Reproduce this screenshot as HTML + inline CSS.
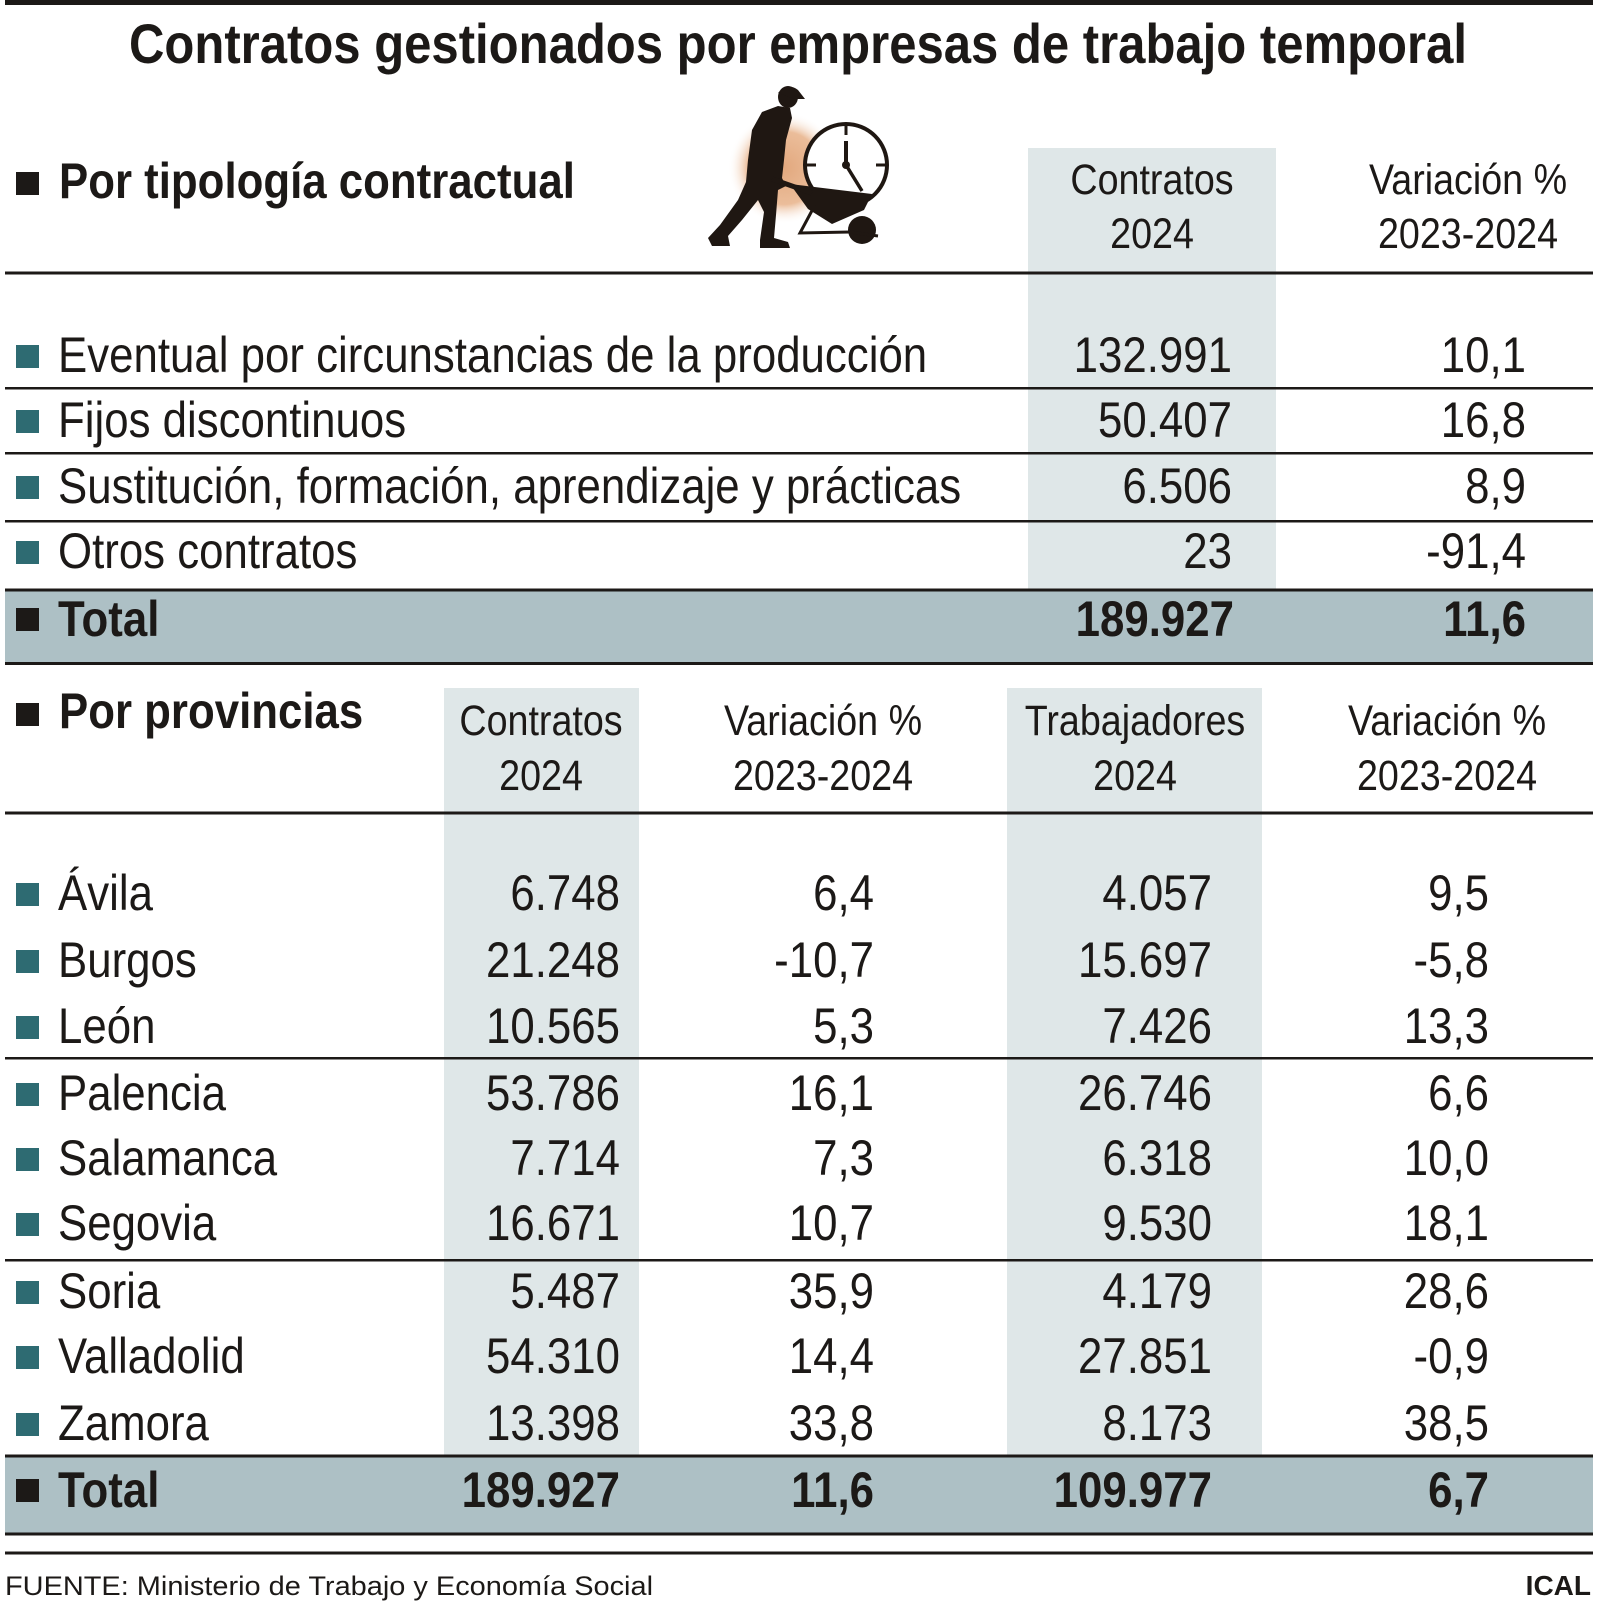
<!DOCTYPE html>
<html>
<head>
<meta charset="utf-8">
<style>
  html,body{margin:0;padding:0;background:#fff;}
  svg{display:block;}
  text{font-family:"Liberation Sans",Arial,sans-serif;fill:#1c1917;}
  .t{font-size:56px;font-weight:bold;}
  .h{font-size:50px;font-weight:bold;}
  .c{font-size:43px;}
  .r{font-size:50px;}
  .b{font-size:50px;font-weight:bold;}
</style>
</head>
<body>
<svg width="1600" height="1612" viewBox="0 0 1600 1612" xmlns="http://www.w3.org/2000/svg">
  <defs>
    <radialGradient id="glow" cx="50%" cy="50%" r="50%">
      <stop offset="0%" stop-color="#e2a87e"/>
      <stop offset="65%" stop-color="#ebbd9a"/>
      <stop offset="100%" stop-color="#ffffff" stop-opacity="0"/>
    </radialGradient>
  </defs>
  <rect x="0" y="0" width="1600" height="1612" fill="#fff"/>

  <!-- top bar -->
  <rect x="5" y="0" width="1588" height="5" fill="#1c1917"/>

  <!-- title -->
  <text class="t" text-anchor="middle" transform="translate(798,63) scale(0.876,1)">Contratos gestionados por empresas de trabajo temporal</text>

  <!-- ===== Section 1 ===== -->
  <rect x="1028" y="148" width="248" height="441" fill="#dfe7e8"/>

  <rect x="16" y="172" width="23" height="23" fill="#1c1917"/>
  <text class="h" transform="translate(59,198) scale(0.876,1)">Por tipología contractual</text>

  <!-- icon -->
  <circle cx="784" cy="168" r="56" fill="url(#glow)"/>
  <circle cx="846" cy="165" r="41" fill="#fff" stroke="#1f1712" stroke-width="4"/>
  <line x1="846" y1="125" x2="846" y2="135" stroke="#1f1712" stroke-width="3"/>
  <line x1="876" y1="165" x2="885" y2="165" stroke="#1f1712" stroke-width="3"/>
  <line x1="807" y1="165" x2="816" y2="165" stroke="#1f1712" stroke-width="3"/>
  <line x1="846" y1="165" x2="846" y2="141" stroke="#1f1712" stroke-width="4"/>
  <line x1="846" y1="165" x2="862" y2="191" stroke="#1f1712" stroke-width="3.5"/>
  <circle cx="846" cy="165" r="4" fill="#1f1712"/>
  <g fill="#1f1712">
    <ellipse cx="788" cy="97" rx="10" ry="11"/>
    <path d="M778 93 Q788 82 798 90 L805 99 L795 99 Z"/>
    <path d="M778 106 L790 108 L792 118 L786 140 L784 160 L782 178 L786 186 L778 190 L776 215 L774 238 L788 242 L790 248 L760 248 L760 240 L764 212 L758 200 L742 220 L728 236 L730 246 L712 246 L708 238 L720 225 L738 200 L746 182 L748 160 L752 130 L762 112 Z"/>
    <path d="M790 184 L872 194 L864 210 L832 224 L808 209 Z"/>
    <circle cx="862" cy="230" r="14"/>
  </g>
  <line x1="772" y1="179" x2="812" y2="193" stroke="#1f1712" stroke-width="5"/>
  <polyline points="815,205 800,233 850,232" fill="none" stroke="#1f1712" stroke-width="3"/>
  <line x1="850" y1="232" x2="878" y2="236" stroke="#1f1712" stroke-width="3"/>

  <!-- section 1 column headers -->
  <text class="c" text-anchor="middle" transform="translate(1152,194) scale(0.876,1)">Contratos</text>
  <text class="c" text-anchor="middle" transform="translate(1152,248) scale(0.876,1)">2024</text>
  <text class="c" text-anchor="middle" transform="translate(1468,194) scale(0.876,1)">Variación %</text>
  <text class="c" text-anchor="middle" transform="translate(1468,248) scale(0.876,1)">2023-2024</text>

  <rect x="5" y="271.5" width="1588" height="3" fill="#1c1917"/>

  <!-- section 1 rows -->
  <g fill="#2e6b72">
    <rect x="16" y="345" width="23" height="23"/>
    <rect x="16" y="410" width="23" height="23"/>
    <rect x="16" y="476" width="23" height="23"/>
    <rect x="16" y="541" width="23" height="23"/>
  </g>
  <text class="r" transform="translate(58,372) scale(0.876,1)">Eventual por circunstancias de la producción</text>
  <text class="r" text-anchor="end" transform="translate(1232,372) scale(0.876,1)">132.991</text>
  <text class="r" text-anchor="end" transform="translate(1526,372) scale(0.876,1)">10,1</text>
  <rect x="5" y="387" width="1588" height="2.5" fill="#1c1917"/>

  <text class="r" transform="translate(58,437) scale(0.876,1)">Fijos discontinuos</text>
  <text class="r" text-anchor="end" transform="translate(1232,437) scale(0.876,1)">50.407</text>
  <text class="r" text-anchor="end" transform="translate(1526,437) scale(0.876,1)">16,8</text>
  <rect x="5" y="452" width="1588" height="2.5" fill="#1c1917"/>

  <text class="r" transform="translate(58,503) scale(0.876,1)">Sustitución, formación, aprendizaje y prácticas</text>
  <text class="r" text-anchor="end" transform="translate(1232,503) scale(0.876,1)">6.506</text>
  <text class="r" text-anchor="end" transform="translate(1526,503) scale(0.876,1)">8,9</text>
  <rect x="5" y="520" width="1588" height="2.5" fill="#1c1917"/>

  <text class="r" transform="translate(58,568) scale(0.876,1)">Otros contratos</text>
  <text class="r" text-anchor="end" transform="translate(1232,568) scale(0.876,1)">23</text>
  <text class="r" text-anchor="end" transform="translate(1526,568) scale(0.876,1)">-91,4</text>

  <!-- total 1 -->
  <rect x="5" y="589" width="1588" height="75" fill="#adc0c5"/>
  <rect x="5" y="588.5" width="1588" height="3" fill="#1c1917"/>
  <rect x="5" y="662" width="1588" height="3" fill="#1c1917"/>
  <rect x="16" y="608" width="23" height="23" fill="#1c1917"/>
  <text class="b" transform="translate(58,636) scale(0.876,1)">Total</text>
  <text class="b" text-anchor="end" transform="translate(1234,636) scale(0.876,1)">189.927</text>
  <text class="b" text-anchor="end" transform="translate(1526,636) scale(0.876,1)">11,6</text>

  <!-- ===== Section 2 ===== -->
  <rect x="444" y="688" width="195" height="767" fill="#dfe7e8"/>
  <rect x="1007" y="688" width="255" height="767" fill="#dfe7e8"/>

  <rect x="16" y="703" width="23" height="23" fill="#1c1917"/>
  <text class="h" transform="translate(59,728) scale(0.876,1)">Por provincias</text>

  <text class="c" text-anchor="middle" transform="translate(541,735) scale(0.876,1)">Contratos</text>
  <text class="c" text-anchor="middle" transform="translate(541,790) scale(0.876,1)">2024</text>
  <text class="c" text-anchor="middle" transform="translate(823,735) scale(0.876,1)">Variación %</text>
  <text class="c" text-anchor="middle" transform="translate(823,790) scale(0.876,1)">2023-2024</text>
  <text class="c" text-anchor="middle" transform="translate(1135,735) scale(0.876,1)">Trabajadores</text>
  <text class="c" text-anchor="middle" transform="translate(1135,790) scale(0.876,1)">2024</text>
  <text class="c" text-anchor="middle" transform="translate(1447,735) scale(0.876,1)">Variación %</text>
  <text class="c" text-anchor="middle" transform="translate(1447,790) scale(0.876,1)">2023-2024</text>

  <rect x="5" y="811.5" width="1588" height="3" fill="#1c1917"/>

  <g fill="#2e6b72">
    <rect x="16" y="883" width="23" height="23"/>
    <rect x="16" y="950" width="23" height="23"/>
    <rect x="16" y="1016" width="23" height="23"/>
    <rect x="16" y="1083" width="23" height="23"/>
    <rect x="16" y="1148" width="23" height="23"/>
    <rect x="16" y="1213" width="23" height="23"/>
    <rect x="16" y="1281" width="23" height="23"/>
    <rect x="16" y="1346" width="23" height="23"/>
    <rect x="16" y="1413" width="23" height="23"/>
  </g>

  <!-- Ávila -->
  <text class="r" transform="translate(58,910) scale(0.876,1)">Ávila</text>
  <text class="r" text-anchor="end" transform="translate(620,910) scale(0.876,1)">6.748</text>
  <text class="r" text-anchor="end" transform="translate(874,910) scale(0.876,1)">6,4</text>
  <text class="r" text-anchor="end" transform="translate(1212,910) scale(0.876,1)">4.057</text>
  <text class="r" text-anchor="end" transform="translate(1489,910) scale(0.876,1)">9,5</text>
  <!-- Burgos -->
  <text class="r" transform="translate(58,977) scale(0.876,1)">Burgos</text>
  <text class="r" text-anchor="end" transform="translate(620,977) scale(0.876,1)">21.248</text>
  <text class="r" text-anchor="end" transform="translate(874,977) scale(0.876,1)">-10,7</text>
  <text class="r" text-anchor="end" transform="translate(1212,977) scale(0.876,1)">15.697</text>
  <text class="r" text-anchor="end" transform="translate(1489,977) scale(0.876,1)">-5,8</text>
  <!-- León -->
  <text class="r" transform="translate(58,1043) scale(0.876,1)">León</text>
  <text class="r" text-anchor="end" transform="translate(620,1043) scale(0.876,1)">10.565</text>
  <text class="r" text-anchor="end" transform="translate(874,1043) scale(0.876,1)">5,3</text>
  <text class="r" text-anchor="end" transform="translate(1212,1043) scale(0.876,1)">7.426</text>
  <text class="r" text-anchor="end" transform="translate(1489,1043) scale(0.876,1)">13,3</text>

  <rect x="5" y="1057" width="1588" height="2.5" fill="#1c1917"/>

  <!-- Palencia -->
  <text class="r" transform="translate(58,1110) scale(0.876,1)">Palencia</text>
  <text class="r" text-anchor="end" transform="translate(620,1110) scale(0.876,1)">53.786</text>
  <text class="r" text-anchor="end" transform="translate(874,1110) scale(0.876,1)">16,1</text>
  <text class="r" text-anchor="end" transform="translate(1212,1110) scale(0.876,1)">26.746</text>
  <text class="r" text-anchor="end" transform="translate(1489,1110) scale(0.876,1)">6,6</text>
  <!-- Salamanca -->
  <text class="r" transform="translate(58,1175) scale(0.876,1)">Salamanca</text>
  <text class="r" text-anchor="end" transform="translate(620,1175) scale(0.876,1)">7.714</text>
  <text class="r" text-anchor="end" transform="translate(874,1175) scale(0.876,1)">7,3</text>
  <text class="r" text-anchor="end" transform="translate(1212,1175) scale(0.876,1)">6.318</text>
  <text class="r" text-anchor="end" transform="translate(1489,1175) scale(0.876,1)">10,0</text>
  <!-- Segovia -->
  <text class="r" transform="translate(58,1240) scale(0.876,1)">Segovia</text>
  <text class="r" text-anchor="end" transform="translate(620,1240) scale(0.876,1)">16.671</text>
  <text class="r" text-anchor="end" transform="translate(874,1240) scale(0.876,1)">10,7</text>
  <text class="r" text-anchor="end" transform="translate(1212,1240) scale(0.876,1)">9.530</text>
  <text class="r" text-anchor="end" transform="translate(1489,1240) scale(0.876,1)">18,1</text>

  <rect x="5" y="1259" width="1588" height="2.5" fill="#1c1917"/>

  <!-- Soria -->
  <text class="r" transform="translate(58,1308) scale(0.876,1)">Soria</text>
  <text class="r" text-anchor="end" transform="translate(620,1308) scale(0.876,1)">5.487</text>
  <text class="r" text-anchor="end" transform="translate(874,1308) scale(0.876,1)">35,9</text>
  <text class="r" text-anchor="end" transform="translate(1212,1308) scale(0.876,1)">4.179</text>
  <text class="r" text-anchor="end" transform="translate(1489,1308) scale(0.876,1)">28,6</text>
  <!-- Valladolid -->
  <text class="r" transform="translate(58,1373) scale(0.876,1)">Valladolid</text>
  <text class="r" text-anchor="end" transform="translate(620,1373) scale(0.876,1)">54.310</text>
  <text class="r" text-anchor="end" transform="translate(874,1373) scale(0.876,1)">14,4</text>
  <text class="r" text-anchor="end" transform="translate(1212,1373) scale(0.876,1)">27.851</text>
  <text class="r" text-anchor="end" transform="translate(1489,1373) scale(0.876,1)">-0,9</text>
  <!-- Zamora -->
  <text class="r" transform="translate(58,1440) scale(0.876,1)">Zamora</text>
  <text class="r" text-anchor="end" transform="translate(620,1440) scale(0.876,1)">13.398</text>
  <text class="r" text-anchor="end" transform="translate(874,1440) scale(0.876,1)">33,8</text>
  <text class="r" text-anchor="end" transform="translate(1212,1440) scale(0.876,1)">8.173</text>
  <text class="r" text-anchor="end" transform="translate(1489,1440) scale(0.876,1)">38,5</text>

  <!-- total 2 -->
  <rect x="5" y="1455" width="1588" height="79" fill="#adc0c5"/>
  <rect x="5" y="1454.5" width="1588" height="3" fill="#1c1917"/>
  <rect x="5" y="1532.5" width="1588" height="3" fill="#1c1917"/>
  <rect x="16" y="1479" width="23" height="23" fill="#1c1917"/>
  <text class="b" transform="translate(58,1507) scale(0.876,1)">Total</text>
  <text class="b" text-anchor="end" transform="translate(620,1507) scale(0.876,1)">189.927</text>
  <text class="b" text-anchor="end" transform="translate(874,1507) scale(0.876,1)">11,6</text>
  <text class="b" text-anchor="end" transform="translate(1212,1507) scale(0.876,1)">109.977</text>
  <text class="b" text-anchor="end" transform="translate(1489,1507) scale(0.876,1)">6,7</text>

  <rect x="5" y="1551.5" width="1588" height="3" fill="#1c1917"/>

  <!-- footer -->
  <text x="5" y="1595" font-size="27" textLength="648" lengthAdjust="spacingAndGlyphs">FUENTE:  Ministerio de Trabajo y Economía Social</text>
  <text x="1591" y="1595" font-size="28" font-weight="bold" text-anchor="end">ICAL</text>
</svg>
</body>
</html>
